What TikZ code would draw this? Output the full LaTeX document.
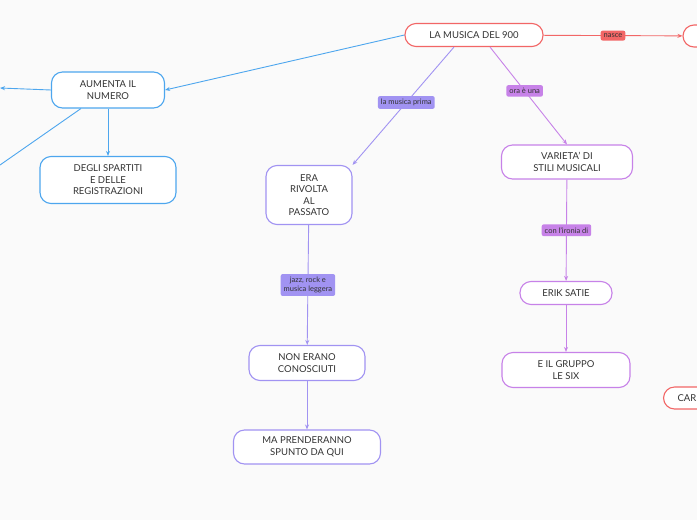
\documentclass[tikz,border=0pt]{standalone}
\usepackage{fontspec}
\setmainfont{Lato}
\usetikzlibrary{arrows.meta,positioning}
\definecolor{cblue}{HTML}{4DA6EE}
\definecolor{cred}{HTML}{F26666}
\definecolor{cviol}{HTML}{A193F2}
\definecolor{cpurp}{HTML}{C782E8}
\definecolor{ctext}{HTML}{333333}

\tikzset{
  topic/.style={draw,line width=1.1pt,rounded corners=11pt,fill=white,text=ctext,
    align=center,font=\fontsize{9.5}{11.5}\selectfont,inner sep=4pt},
  tag/.style={rounded corners=2pt,text=ctext,font=\fontsize{7.5}{9}\selectfont,
    align=center,inner sep=3pt},
  link/.style={line width=0.9pt,-{Stealth[length=5pt,width=4pt]}},
}

\begin{document}
\begin{tikzpicture}[x=1pt,y=-1pt]
\useasboundingbox[fill=white!98!black] (0,0) rectangle (697,520);
\clip (0,0) rectangle (697,520);

\node[topic,draw=cred,minimum width=138pt,minimum height=23pt] (musica) at (474,35) {LA MUSICA DEL 900};
\node[topic,draw=cred,minimum width=60pt,minimum height=22pt] (destra) at (713,36) {};
\node[topic,draw=cred,minimum height=22pt,anchor=west,text width=60pt,align=left,inner xsep=14pt] (car) at (663,398) {CAR};

\node[topic,draw=cblue,minimum width=113pt,minimum height=36pt] (numero) at (108,90) {AUMENTA IL\\NUMERO};
\node[topic,draw=cblue,minimum width=136pt,minimum height=47pt] (spartiti) at (108,180) {DEGLI SPARTITI\\E DELLE\\REGISTRAZIONI};
\coordinate (sx1) at (0,88);
\coordinate (sx2) at (0,165);

\node[topic,draw=cviol,minimum width=86pt,minimum height=59pt] (era) at (309,195) {ERA\\RIVOLTA\\AL\\PASSATO};
\node[topic,draw=cviol,minimum width=116pt,minimum height=35pt] (noti) at (307,363) {NON ERANO\\CONOSCIUTI};
\node[topic,draw=cviol,minimum width=147pt,minimum height=34pt] (spunto) at (307,447) {MA PRENDERANNO\\SPUNTO DA QUI};

\node[topic,draw=cpurp,minimum width=131pt,minimum height=34pt] (stili) at (567,162) {VARIETA' DI\\STILI MUSICALI};
\node[topic,draw=cpurp,minimum width=92pt,minimum height=23pt] (satie) at (566,293) {ERIK SATIE};
\node[topic,draw=cpurp,minimum width=128pt,minimum height=35pt] (six) at (566,370) {E IL GRUPPO\\LE SIX};

% connettori
\draw[link,cred] (musica) -- node[tag,fill=cred,pos=0.5] {nasce} (destra);
\draw[link,cblue] (musica.west) -- (numero.east);
\draw[link,cblue] (numero.west) -- (sx1);
\draw[cblue,line width=0.9pt] (numero.south west) ++(30,0) -- (sx2);
\draw[link,cblue] (numero) -- (spartiti);
\draw[link,cviol] (musica.south) ++(-20,0) -- node[tag,fill=cviol,pos=0.47] {la musica prima} (era.north east);
\draw[link,cviol] (era) -- node[tag,fill=cviol] {jazz, rock e\\musica leggera} (noti);
\draw[link,cviol] (noti) -- (spunto);
\draw[link,cpurp] (musica.south) ++(16,0) -- node[tag,fill=cpurp,pos=0.45] {ora è una} (stili.north);
\draw[link,cpurp] (stili) -- node[tag,fill=cpurp] {con l'ironia di} (satie);
\draw[link,cpurp] (satie) -- (six);
\end{tikzpicture}
\end{document}
